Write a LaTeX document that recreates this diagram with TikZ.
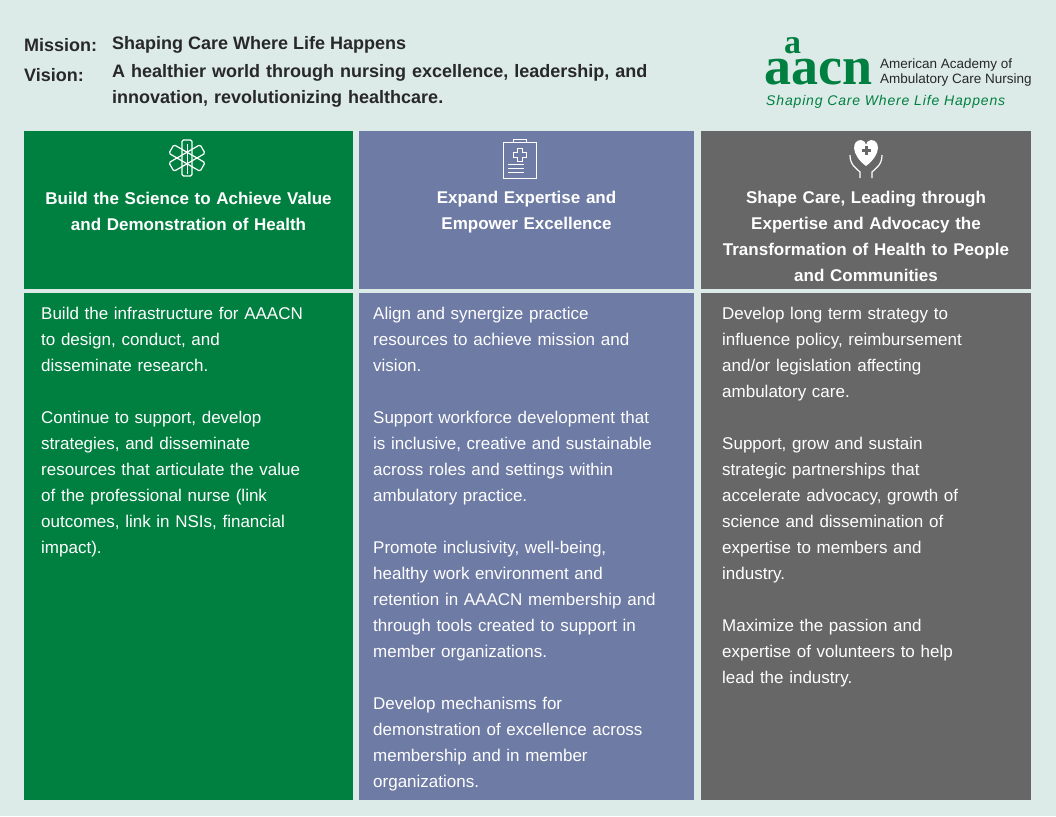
\documentclass[tikz,border=0pt]{standalone}
\usepackage{fontspec}
\setmainfont{Liberation Sans}
\newfontfamily\logofont{Liberation Serif}
\newfontfamily\tagfont[LetterSpace=6]{Liberation Sans}
\usetikzlibrary{positioning}
\definecolor{bgmint}{RGB}{220,234,232}
\definecolor{aacngreen}{RGB}{0,128,64}
\definecolor{slateblue}{RGB}{110,123,165}
\definecolor{darkgray}{RGB}{103,103,103}
\definecolor{headtext}{RGB}{40,40,40}

\begin{document}
\begin{tikzpicture}[
    x=1pt, y=-1pt,
    every node/.style={inner sep=0pt},
    head/.style={font=\fontsize{17}{26}\selectfont\bfseries, text=white, align=center, text width=300pt},
    body/.style={font=\fontsize{17}{26}\selectfont, text=white, align=left, text width=300pt, anchor=north west},
    top/.style={font=\fontsize{18}{26}\selectfont\bfseries, text=headtext, anchor=west},
    icon/.style={draw=white, line width=1.2pt}
]
\useasboundingbox[fill=bgmint] (0,0) rectangle (1056,816);

% Mission and vision
\node[top] (mlabel) at (24,45) {Mission:};
\node[top] (mtext) at (112,45) {Shaping Care Where Life Happens};
\node[top] (vlabel) at (24,75) {Vision:};
\node[top, anchor=north west, align=left, text width=560pt] (vtext) at (112,64) {A healthier world through nursing excellence, leadership, and\\innovation, revolutionizing healthcare.};

% Logo
\node[font=\logofont\fontsize{54}{54}\selectfont\bfseries, text=aacngreen, anchor=base west] (logo) at (764,84) {\rlap{\hspace{20pt}\raisebox{30pt}{\fontsize{34}{34}\selectfont a}}aacn};
\node[font=\fontsize{13.5}{15}\selectfont, text=headtext, anchor=west, align=left] (logoname) at (880,73) {American Academy of\\Ambulatory Care Nursing};
\node[font=\tagfont\fontsize{14}{15}\selectfont\itshape, text=aacngreen, anchor=west] (tagline) at (766,102) {Shaping Care Where Life Happens};

% Column boxes
\fill[aacngreen] (24,131) rectangle (353,289);
\fill[aacngreen] (24,293) rectangle (353,800);
\fill[slateblue] (359,131) rectangle (694,289);
\fill[slateblue] (359,293) rectangle (694,800);
\fill[darkgray] (701,131) rectangle (1031,289);
\fill[darkgray] (701,293) rectangle (1031,800);

% Icons
\foreach \a in {0,60,120}
  \draw[icon, rounded corners=1.5pt, rotate around={\a:(187,158)}] (182,140) rectangle (192,176);
\draw[icon, line width=0.8pt] (187,144) -- (187,174);
\draw[icon, line width=0.8pt] (503,142) rectangle (536,178);
\draw[icon, line width=0.8pt] (513,142) -- (513,139) -- (526,139) -- (526,142);
\draw[icon, line width=0.8pt] (517,148) -- (522,148) -- (522,152) -- (526,152) -- (526,157) -- (522,157) -- (522,161) -- (517,161) -- (517,157) -- (513,157) -- (513,152) -- (517,152) -- cycle;
\foreach \yy in {164,168,172}
  \draw[icon, line width=0.8pt] (508,\yy) -- (524,\yy);
\fill[white] (866,166) .. controls (850,154) and (852,140) .. (861,140) .. controls (864,140) and (866,143) .. (866,145) .. controls (866,143) and (868,140) .. (871,140) .. controls (880,140) and (882,154) .. (866,166) -- cycle;
\fill[darkgray] (864.5,146) rectangle (867.5,155);
\fill[darkgray] (861.5,149) rectangle (870.5,152);
\draw[icon] (850,155) .. controls (850,165) and (856,168) .. (860,172) -- (860,178);
\draw[icon] (882,155) .. controls (882,165) and (876,168) .. (872,172) -- (872,178);

% Headers
\node[head] (h1) at (188.5,211) {Build the Science to Achieve Value\\and Demonstration of Health};
\node[head] (h2) at (526.5,212) {Expand Expertise and\\Empower Excellence};
\node[head] (h3) at (866,236) {Shape Care, Leading through\\Expertise and Advocacy the\\Transformation of Health to People\\and Communities};

% Body texts
\node[body, text width=295pt] (b1) at (41,307) {Build the infrastructure for AAACN\\to design, conduct, and\\disseminate research.\\[26pt]Continue to support, develop\\strategies, and disseminate\\resources that articulate the value\\of the professional nurse (link\\outcomes, link in NSIs, financial\\impact).};
\node[body, text width=310pt] (b2) at (373,307) {Align and synergize practice\\resources to achieve mission and\\vision.\\[26pt]Support workforce development that\\is inclusive, creative and sustainable\\across roles and settings within\\ambulatory practice.\\[26pt]Promote inclusivity, well-being,\\healthy work environment and\\retention in AAACN membership and\\through tools created to support in\\member organizations.\\[26pt]Develop mechanisms for\\demonstration of excellence across\\membership and in member\\organizations.};
\node[body, text width=300pt] (b3) at (722,307) {Develop long term strategy to\\influence policy, reimbursement\\and/or legislation affecting\\ambulatory care.\\[26pt]Support, grow and sustain\\strategic partnerships that\\accelerate advocacy, growth of\\science and dissemination of\\expertise to members and\\industry.\\[26pt]Maximize the passion and\\expertise of volunteers to help\\lead the industry.};
\end{tikzpicture}
\end{document}
